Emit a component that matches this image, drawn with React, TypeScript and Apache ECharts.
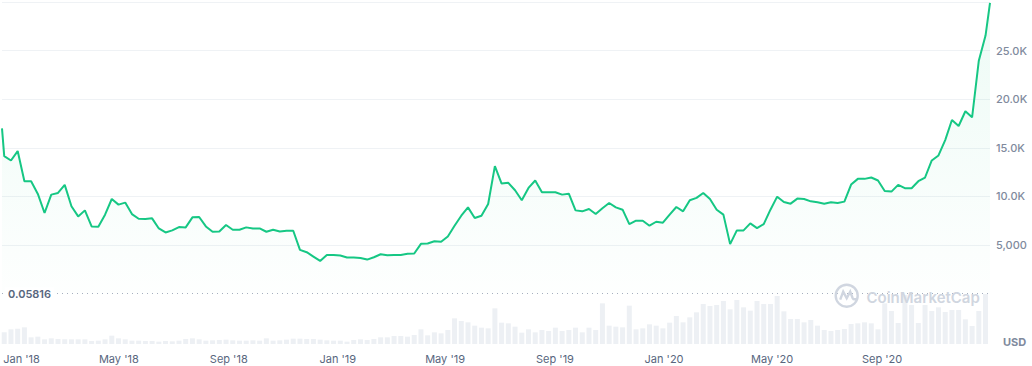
import React, { useEffect, useRef } from "react";
import * as echarts from "echarts";

const DAY = 86400000;
// visible time window (left / right edges of the plot)
const X_MIN = Date.UTC(2017, 11, 21, 7);
const X_MAX = Date.UTC(2020, 11, 30, 17);
// sampling of the series
const FIRST_SAMPLE = Date.UTC(2017, 11, 23, 19);
const SAMPLE_STEP_DAYS = 7.52;

const EDGE_START_PRICE = 17000;
const EDGE_END_PRICE = 29900;

// BTC price (USD) per sample
const prices = [
  14150, 13700, 14670, 11570, 11570, 10260, 8300, 10190, 10360, 11190,
  8990, 7950, 8570, 6920, 6890, 8130, 9740, 9160, 9370, 8190,
  7710, 7680, 7750, 6710, 6300, 6510, 6850, 6820, 7850, 7890,
  6920, 6370, 6400, 7060, 6580, 6580, 6820, 6710, 6710, 6370,
  6580, 6400, 6470, 6470, 4510, 4270, 3820, 3370, 3990, 3990,
  3930, 3720, 3720, 3680, 3510, 3750, 4060, 3960, 3990, 3990,
  4100, 4130, 5130, 5160, 5400, 5340, 5890, 6990, 8020, 8880,
  7780, 8020, 9230, 13120, 11330, 11400, 10640, 9610, 10880, 11640,
  10430, 10430, 10430, 10190, 10290, 8570, 8470, 8710, 8190, 8780,
  9330, 8880, 8640, 7160, 7510, 7510, 6990, 7400, 7300, 8130,
  8920, 8470, 9610, 9850, 10360, 9740, 8640, 8130, 5100, 6510,
  6510, 7230, 6750, 7160, 8640, 9980, 9430, 9260, 9780, 9740,
  9500, 9400, 9260, 9400, 9330, 9470, 11220, 11810, 11810, 11950,
  11640, 10570, 10500, 11190, 10850, 10850, 11570, 11950, 13700, 14220,
  15800, 17870, 17250, 18760, 18140, 23960, 26550,
];

// 24h volume (billion USD) per sample
const volumes = [
  14.0, 17.6, 18.4, 20.0, 8.0, 8.8, 5.6, 6.8, 6.0, 5.6,
  5.6, 5.6, 5.6, 3.6, 4.0, 5.6, 10.0, 6.8, 5.6, 4.0,
  4.0, 3.6, 3.6, 2.8, 3.6, 3.2, 4.0, 6.0, 6.8, 5.6,
  4.0, 4.4, 4.8, 5.2, 4.4, 4.0, 4.0, 4.4, 4.0, 6.8,
  4.0, 4.4, 5.2, 6.4, 6.4, 6.0, 6.0, 5.2, 4.4, 4.0,
  4.0, 2.8, 4.8, 5.6, 4.8, 6.0, 8.0, 8.0, 9.6, 9.6,
  8.8, 10.8, 17.6, 10.4, 14.0, 12.8, 16.8, 30.8, 27.6, 26.0,
  22.0, 19.6, 18.8, 42.8, 25.6, 24.8, 20.8, 13.6, 17.6, 14.0,
  16.8, 15.6, 19.6, 15.6, 16.8, 19.6, 14.0, 19.6, 16.8, 48.8,
  22.0, 20.8, 20.0, 46.0, 17.6, 18.8, 23.6, 22.0, 18.8, 25.6,
  33.6, 26.0, 32.0, 38.0, 48.0, 45.6, 46.8, 51.6, 41.6, 52.8,
  44.0, 40.0, 51.6, 48.0, 48.0, 57.6, 39.2, 30.0, 30.0, 26.0,
  28.8, 22.0, 16.8, 15.6, 16.8, 18.0, 24.0, 24.8, 26.0, 24.8,
  17.6, 48.8, 39.6, 25.2, 58.8, 46.8, 25.2, 46.8, 39.6, 44.0,
  38.4, 40.8, 40.8, 29.6, 21.6, 39.6, 60.0,
];

// x-axis labels (month starts)
const xTickDates = [
  "2018-01-01", "2018-05-01", "2018-09-01",
  "2019-01-01", "2019-05-01", "2019-09-01",
  "2020-01-01", "2020-05-01", "2020-09-01",
];
const monthNames = ["Jan", "Feb", "Mar", "Apr", "May", "Jun", "Jul", "Aug", "Sep", "Oct", "Nov", "Dec"];

const LOW_LABEL = "0.05816";
const CURRENCY = "USD";
const BRAND = "CoinMarketCap";

let logoRegistered = false;

export default function App() {
  const ref = useRef<HTMLDivElement>(null);

  useEffect(() => {
    document.body.style.margin = "0";
    if (!logoRegistered) {
      echarts.graphic.registerShape(
        "cmcLogo",
        echarts.graphic.extendPath(
          "M23 12 A11 11 0 0 1 1 12 A11 11 0 0 1 23 12 M5.5 16 L8.5 8 L12 14.5 L15.5 8 L18 14.5 Q19 16.5 22 15",
          {}
        )
      );
      logoRegistered = true;
    }
    const chart = echarts.init(ref.current!, undefined, { renderer: "svg" });

    const sampleTime = (i: number) => FIRST_SAMPLE + i * SAMPLE_STEP_DAYS * DAY;
    const priceData: [number, number][] = [[X_MIN, EDGE_START_PRICE]];
    prices.forEach((p, i) => priceData.push([sampleTime(i), p]));
    priceData.push([X_MAX, EDGE_END_PRICE]);
    const volData = volumes.map((v, i) => [sampleTime(i), v]);

    const tickValues = xTickDates.map((d) => new Date(d + "T00:00:00Z").getTime());

    const font = "Inter, 'Noto Sans', sans-serif";

    chart.setOption({
      animation: false,
      grid: [
        { left: 2, right: 42, top: 2, bottom: 72.3 },
        { left: 2, right: 42, top: 294, height: 50 },
      ],
      xAxis: [
        { type: "value", gridIndex: 0, min: X_MIN, max: X_MAX, show: false },
        {
          type: "value",
          gridIndex: 1,
          min: X_MIN,
          max: X_MAX,
          axisLine: { show: false },
          axisTick: { show: false },
          splitLine: { show: false },
          axisLabel: {
            customValues: tickValues,
            margin: 9,
            color: "#58667e",
            fontSize: 11,
            fontFamily: font,
            formatter: (val: number) => {
              const d = new Date(val);
              const txt = `${monthNames[d.getUTCMonth()]} '${String(d.getUTCFullYear()).slice(2)}`;
              if (val === tickValues[0]) return `{first|${txt}}`;
              return txt;
            },
            rich: {
              first: {
                color: "#58667e",
                fontSize: 11,
                fontFamily: font,
                padding: [0, 0, 0, 20],
              },
            },
          },
        },
      ],
      yAxis: [
        {
          type: "value",
          gridIndex: 0,
          position: "right",
          min: 0,
          max: 30000,
          interval: 5000,
          axisLine: { show: false },
          axisTick: { show: false },
          splitLine: { lineStyle: { color: "#eff2f5", width: 1 }, showMinLine: false },
          axisLabel: {
            showMinLabel: false,
            showMaxLabel: false,
            margin: 6,
            color: "#808a9d",
            fontSize: 11,
            fontWeight: 500,
            fontFamily: font,
            formatter: (v: number) => {
              if (v === 0 || v === 30000) return "";
              if (v < 10000) return v.toLocaleString("en-US");
              return (v / 1000).toFixed(1) + "K";
            },
          },
        },
        { type: "value", gridIndex: 1, min: 0, max: 60, show: false },
      ],
      series: [
        {
          type: "bar",
          xAxisIndex: 1,
          yAxisIndex: 1,
          data: volData,
          barWidth: 5,
          silent: true,
          itemStyle: { color: "#edf0f4" },
        },
        {
          type: "line",
          xAxisIndex: 0,
          yAxisIndex: 0,
          data: priceData,
          symbol: "none",
          silent: true,
          z: 3,
          lineStyle: { color: "#16c784", width: 2 },
          areaStyle: {
            color: new echarts.graphic.LinearGradient(0, 0, 0, 1, [
              { offset: 0, color: "rgba(22,199,132,0.11)" },
              { offset: 1, color: "rgba(22,199,132,0.01)" },
            ]),
          },
          markLine: {
            silent: true,
            symbol: ["none", "none"],
            label: { show: false },
            lineStyle: { color: "#a6afbf", type: [1, 4], width: 1 },
            emphasis: { disabled: true },
            data: [{ yAxis: 0 }],
          },
        },
      ],
      graphic: [
        {
          type: "text",
          x: 5,
          y: 294,
          z: 100,
          style: {
            text: LOW_LABEL,
            fill: "#58667e",
            font: `600 11px ${font}`,
            verticalAlign: "middle",
            backgroundColor: "#ffffff",
            padding: [1, 3],
          },
        },
        {
          type: "text",
          x: 1003,
          y: 341.5,
          z: 100,
          style: {
            text: CURRENCY,
            fill: "#808a9d",
            font: `700 11px ${font}`,
            verticalAlign: "middle",
          },
        },
        {
          type: "cmcLogo",
          x: 834.7,
          y: 283.7,
          z: 100,
          style: { fill: "none", stroke: "#d0d6e0", lineWidth: 2.4 },
        },
        {
          type: "text",
          x: 866.5,
          y: 297,
          z: 100,
          style: {
            text: BRAND,
            fill: "#d0d6e0",
            font: `600 15px ${font}`,
            verticalAlign: "middle",
          },
        },
      ],
    });

    return () => chart.dispose();
  }, []);

  return <div ref={ref} style={{ width: 1032, height: 366 }} />;
}
